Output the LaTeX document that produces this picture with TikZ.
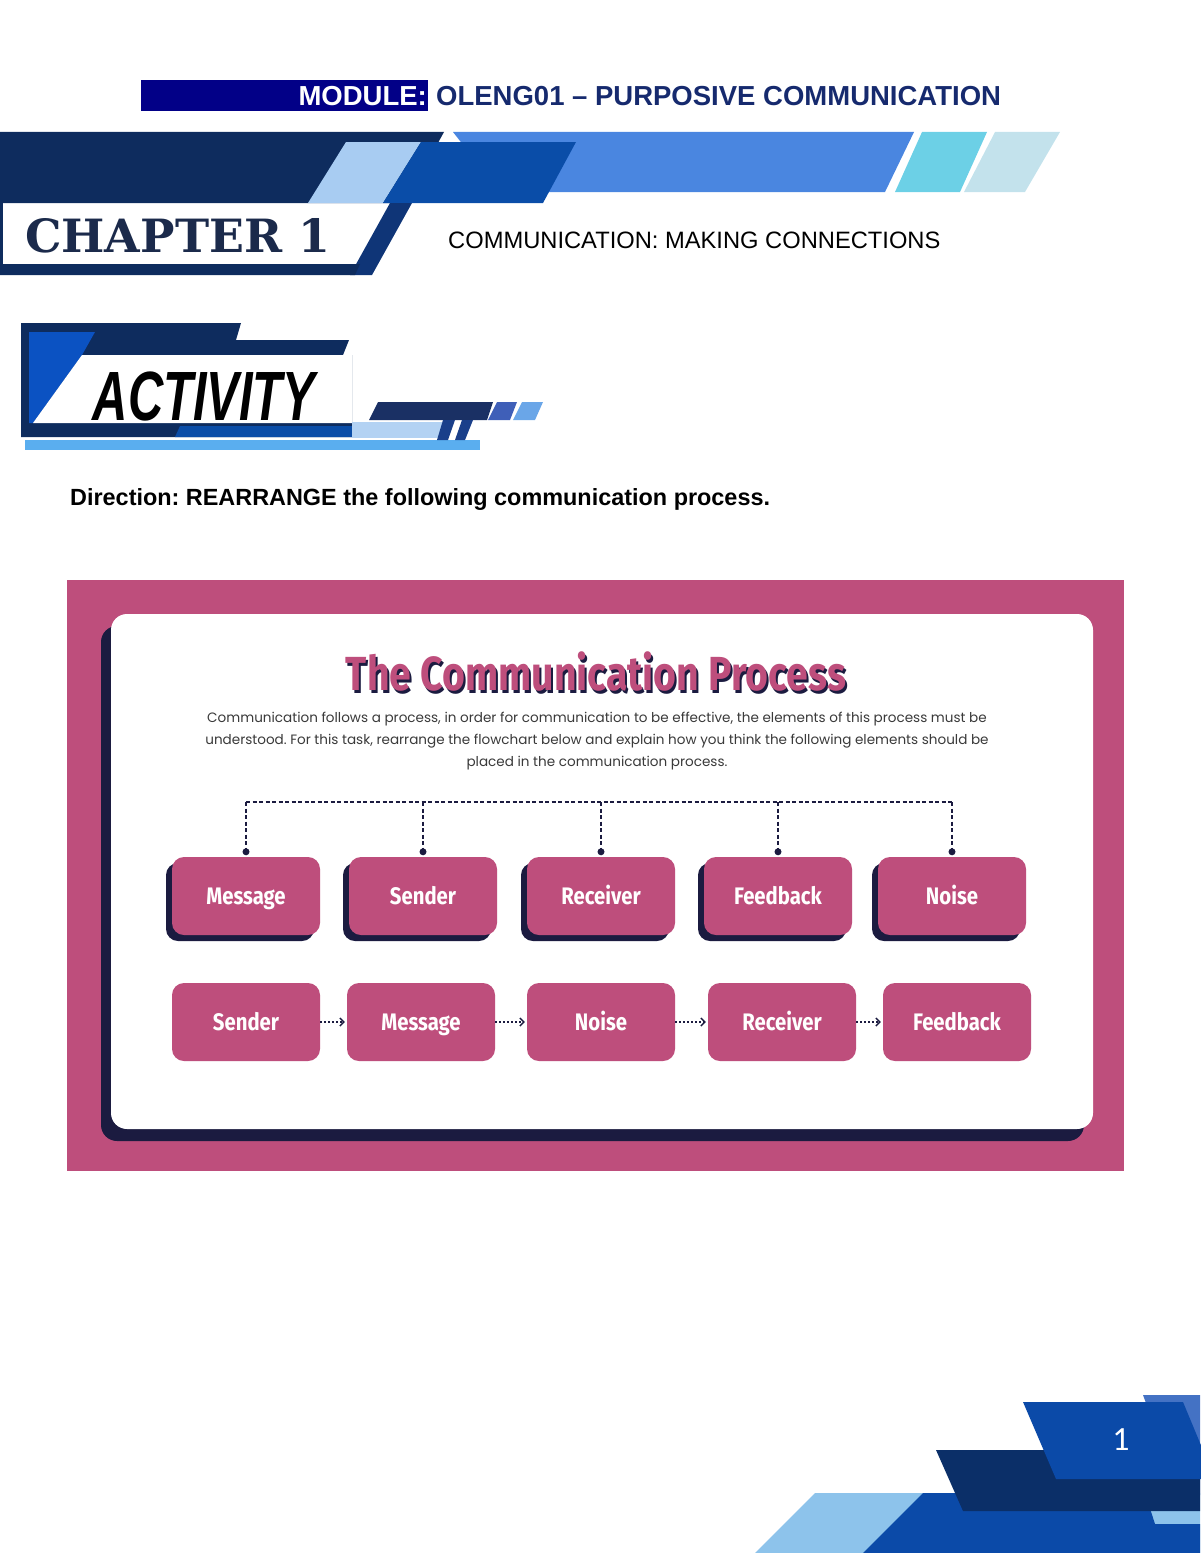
\documentclass[tikz,border=0pt]{standalone}
\usepackage{fontspec}
\setmainfont{Liberation Sans}
\newfontfamily\chapfont{DejaVu Serif}
\newfontfamily\actfont{Liberation Sans}[FakeStretch=0.7]
\newfontfamily\titlefont{Fira Sans}[FakeStretch=0.82]
\newfontfamily\parafont{Poppins}
\newfontfamily\boxfont{Fira Sans}[FakeStretch=0.85]
\newfontfamily\pagefont{Carlito}
\usetikzlibrary{arrows.meta}
\usetikzlibrary{shadows}
\usetikzlibrary{positioning}
\definecolor{modnavy}{RGB}{2,0,135}
\definecolor{hdrblue}{RGB}{22,42,110}
\definecolor{bandnavy}{RGB}{14,44,94}
\definecolor{bandlight}{RGB}{168,204,242}
\definecolor{banddark}{RGB}{10,77,168}
\definecolor{bandmid}{RGB}{74,134,224}
\definecolor{bandcyan}{RGB}{108,208,230}
\definecolor{bandpale}{RGB}{195,226,236}
\definecolor{stripe}{RGB}{15,53,119}
\definecolor{chaptext}{RGB}{27,42,75}
\definecolor{actblue}{RGB}{11,82,194}
\definecolor{actsky}{RGB}{90,174,239}
\definecolor{actpale}{RGB}{179,210,243}
\definecolor{actbar}{RGB}{26,48,100}
\definecolor{actleg}{RGB}{26,63,138}
\definecolor{actmid}{RGB}{63,95,184}
\definecolor{actlite}{RGB}{106,166,232}
\definecolor{procpink}{RGB}{190,78,124}
\definecolor{procnavy}{RGB}{27,27,64}
\definecolor{paragray}{RGB}{58,58,58}
\definecolor{cornerblue}{RGB}{11,74,168}
\definecolor{cornernavy}{RGB}{11,47,104}
\definecolor{cornersky}{RGB}{141,195,235}
\definecolor{cornermid}{RGB}{68,114,196}
\tikzset{
  hdr/.style={inner sep=0pt, font=\bfseries\fontsize{27.6}{27.6}\selectfont},
  pinkbox/.style={fill=procpink, rounded corners=12bp, minimum width=148bp, minimum height=78bp,
    inner sep=0pt, text height=16.5bp, text depth=0bp, text=white,
    font=\boxfont\bfseries\fontsize{24}{24}\selectfont},
  topbox/.style={pinkbox, general shadow={fill=procnavy, shadow xshift=-6bp, shadow yshift=-6bp}},
  bracket/.style={procnavy, line width=1.6bp, dash pattern=on 4bp off 2.5bp},
  flow/.style={procnavy, line width=1.6bp, dash pattern=on 2bp off 2bp, shorten >=2bp,
    -{Straight Barb[length=4bp,width=8bp,line width=1.4bp]}}
}
\frenchspacing

\begin{document}
\begin{tikzpicture}[x=1bp,y=-1bp]
\useasboundingbox (0,0) rectangle (1200,1553);
%% header line
\fill[modnavy] (141,80) rectangle (428,111);
\node[hdr, text=white, anchor=base east] (module) at (427,106) {MODULE:};
\node[hdr, text=hdrblue, anchor=base west] (course) at (436,106) {OLENG01 \textendash{} PURPOSIVE COMMUNICATION};
%% chapter banner
\fill[bandmid] (453,132) -- (914,132) -- (885,192) -- (500,192) -- cycle;
\fill[bandcyan] (922,132) -- (987,132) -- (960,192) -- (895,192) -- cycle;
\fill[bandpale] (995,132) -- (1060,132) -- (1025,192) -- (964,192) -- cycle;
\fill[bandnavy] (0,132) -- (444,132) -- (405,203) -- (0,203) -- cycle;
\fill[bandlight] (346,142) -- (421,142) -- (383,203) -- (308,203) -- cycle;
\fill[banddark] (421,142) -- (576,142) -- (543,203) -- (383,203) -- cycle;
\fill[stripe] (390,203) -- (412,203) -- (372,275) -- (350,275) -- cycle;
\fill[bandnavy] (0,264) -- (360,264) -- (355,275) -- (0,275) -- cycle;
\fill[bandnavy] (0,203) rectangle (3,275);
\node[inner sep=0pt, anchor=base west, text=chaptext, font=\chapfont\bfseries\fontsize{46}{46}\selectfont]
  (chapter) at (25,252) {CHAPTER 1};
\node[inner sep=0pt, anchor=base west, font=\fontsize{23.8}{23.8}\selectfont]
  (chaptitle) at (448,248) {COMMUNICATION: MAKING CONNECTIONS};
%% activity banner
\fill[bandnavy] (21,323) -- (241,323) -- (236,340) -- (349,340) -- (343,355) -- (352,355) -- (352,437) -- (21,437) -- cycle;
\fill[actblue] (29,332) -- (95,332) -- (82,355) -- (33,423) -- (29,423) -- cycle;
\fill[banddark] (180,426) -- (352,426) -- (352,437) -- (175,437) -- cycle;
\fill[white] (82,355) -- (352,355) -- (352,423) -- (33,423) -- cycle;
\fill[actsky] (25,440) rectangle (480,450);
\fill[actpale] (352,422) rectangle (442,438);
\fill[actbar] (378,402) -- (493,402) -- (487,420) -- (369,420) -- cycle;
\fill[actleg] (443,420) -- (455,420) -- (448,440) -- (437,440) -- cycle;
\fill[actleg] (462,420) -- (473,420) -- (465,440) -- (455,440) -- cycle;
\fill[actmid] (497,402) -- (517,402) -- (510,420) -- (488,420) -- cycle;
\fill[actlite] (522,402) -- (543,402) -- (535,420) -- (513,420) -- cycle;
\node[inner sep=0pt, anchor=base, font=\actfont\bfseries\itshape\fontsize{70}{70}\selectfont]
  (activity) at (204,420) {ACTIVITY};
%% direction
\node[inner sep=0pt, anchor=base west, font=\bfseries\fontsize{23.5}{23.5}\selectfont]
  (direction) at (70,505) {Direction: REARRANGE the following communication process.};
%% process panel
\fill[procpink] (67,580) rectangle (1124,1171);
\fill[procnavy, rounded corners=16bp] (101,626) rectangle (1084,1141);
\fill[white, rounded corners=16bp] (111,614) rectangle (1093,1129);
\node[inner sep=0pt, anchor=base, text=procnavy, font=\titlefont\bfseries\fontsize{48}{48}\selectfont]
  at (598,693) {The Communication Process};
\node[inner sep=0pt, anchor=base, text=procpink, font=\titlefont\bfseries\fontsize{48}{48}\selectfont]
  (title) at (596,690) {The Communication Process};
\node[inner sep=0pt, align=center, text=paragray, font=\parafont\fontsize{13.6}{22}\selectfont]
  (para) at (597,741) {Communication follows a process, in order for communication to be effective, the elements of this process must be\\
  understood. For this task, rearrange the flowchart below and explain how you think the following elements should be\\
  placed in the communication process.};
%% top row
\node[topbox] (tMessage) at (246,896) {Message};
\node[topbox] (tSender) at (423,896) {Sender};
\node[topbox] (tReceiver) at (601,896) {Receiver};
\node[topbox] (tFeedback) at (778,896) {Feedback};
\node[topbox] (tNoise) at (952,896) {Noise};
\coordinate (bar) at (0,802);
\draw[bracket] (tMessage.north |- bar) -- (tNoise.north |- bar);
\foreach \b in {tMessage,tSender,tReceiver,tFeedback,tNoise} {
  \draw[bracket] (\b.north |- bar) -- ([yshift=5bp]\b.north);
  \fill[procnavy] ([yshift=5bp]\b.north) circle (3.5bp);
}
%% bottom row
\node[pinkbox] (bSender) at (246,1022) {Sender};
\node[pinkbox] (bMessage) at (421,1022) {Message};
\node[pinkbox] (bNoise) at (601,1022) {Noise};
\node[pinkbox] (bReceiver) at (782,1022) {Receiver};
\node[pinkbox] (bFeedback) at (957,1022) {Feedback};
\draw[flow] (bSender) -- (bMessage);
\draw[flow] (bMessage) -- (bNoise);
\draw[flow] (bNoise) -- (bReceiver);
\draw[flow] (bReceiver) -- (bFeedback);
%% page corner
\fill[cornersky] (815,1493) -- (1200,1493) -- (1200,1553) -- (755,1553) -- cycle;
\fill[cornerblue] (923,1493) -- (1145,1493) -- (1155,1524) -- (1200,1524) -- (1200,1553) -- (863,1553) -- cycle;
\fill[cornermid] (1143,1395) -- (1200,1395) -- (1200,1495) -- (1180,1495) -- cycle;
\fill[cornernavy] (936,1450) -- (1200,1450) -- (1200,1511) -- (963,1511) -- cycle;
\fill[cornerblue] (1023,1402) -- (1183,1402) -- (1215,1479) -- (1056,1479) -- cycle;
\node[inner sep=0pt, anchor=base, text=white, font=\pagefont\fontsize{34}{34}\selectfont]
  (pagenum) at (1121,1450) {1};
\end{tikzpicture}
\end{document}
